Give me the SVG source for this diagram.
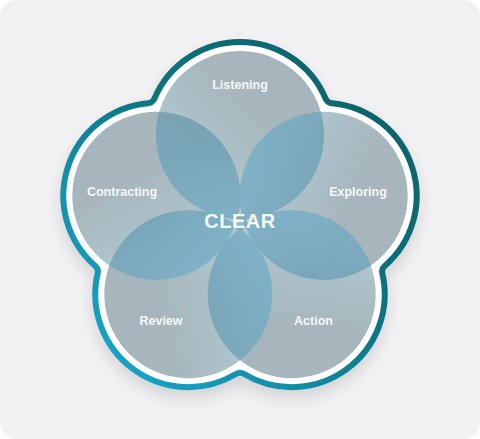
<svg xmlns="http://www.w3.org/2000/svg" width="480" height="439" viewBox="0 0 480 439">
  <defs>
    <linearGradient id="ring" x1="1" y1="0" x2="0" y2="1">
      <stop offset="0" stop-color="#0a5c60"/>
      <stop offset="0.45" stop-color="#0f7480"/>
      <stop offset="1" stop-color="#16afd8"/>
    </linearGradient>
    <linearGradient id="cg" x1="0.9" y1="0.1" x2="0.1" y2="0.9">
      <stop offset="0" stop-color="#5e7a85" stop-opacity="0.55"/>
      <stop offset="0.35" stop-color="#5e7a85" stop-opacity="0.55"/>
      <stop offset="1" stop-color="#78a8bc" stop-opacity="0.55"/>
    </linearGradient>
    <clipPath id="cL"><circle cx="240" cy="135" r="84"/></clipPath>
    <clipPath id="cE"><circle cx="323.69" cy="195.81" r="84"/></clipPath>
    <clipPath id="cA"><circle cx="291.73" cy="294.19" r="84"/></clipPath>
    <clipPath id="cR"><circle cx="188.27" cy="294.19" r="84"/></clipPath>
    <filter id="sh" x="-20%" y="-20%" width="140%" height="150%">
      <feDropShadow dx="0" dy="8" stdDeviation="8" flood-color="#000" flood-opacity="0.13"/>
    </filter>
    <style>
      .lbl { font-family: "Liberation Sans", Arial, sans-serif; font-weight: bold; font-size: 12.5px; fill: #ffffff; fill-opacity: 0.92; text-anchor: middle; }
      .ttl { font-family: "Liberation Sans", Arial, sans-serif; font-weight: bold; font-size: 20px; letter-spacing: 0.5px; fill: #ffffff; fill-opacity: 0.95; text-anchor: middle; }
      .pet { fill: url(#cg); }
      .lens { fill: #68b4d6; fill-opacity: 0.35; }
    </style>
  </defs>
  <rect x="0" y="0" width="480" height="439" fill="#ffffff"/>
  <rect x="0" y="0" width="480" height="439" rx="16" fill="#f2f2f5"/>
  <g id="frame">
    <path filter="url(#sh)" fill="#ffffff" stroke="url(#ring)" stroke-width="6"
      d="M154.30,98.88 A93,93 0 0 1 325.70,98.88 A7,7 0 0 0 331.56,103.14 A93,93 0 0 1 384.52,266.15 A7,7 0 0 0 382.28,273.03 A93,93 0 0 1 243.62,373.78 A7,7 0 0 0 236.38,373.78 A93,93 0 0 1 97.72,273.03 A7,7 0 0 0 95.48,266.15 A93,93 0 0 1 148.44,103.14 A7,7 0 0 0 154.30,98.88 Z"/>
    <circle cx="240" cy="223" r="7" fill="#8fbfd3"/>
  </g>
  <g id="connectors"/>
  <g id="listening">
    <circle class="pet" r="84" transform="translate(240,135) rotate(0)"/>
  </g>
  <g id="exploring">
    <circle class="pet" r="84" transform="translate(323.69,195.81) rotate(72)"/>
  </g>
  <g id="action">
    <circle class="pet" r="84" transform="translate(291.73,294.19) rotate(144)"/>
  </g>
  <g id="review">
    <circle class="pet" r="84" transform="translate(188.27,294.19) rotate(216)"/>
  </g>
  <g id="contracting">
    <circle class="pet" r="84" transform="translate(156.31,195.81) rotate(288)"/>
  </g>
  <g id="overlaps">
    <circle class="lens" cx="323.69" cy="195.81" r="84" clip-path="url(#cL)"/>
    <circle class="lens" cx="291.73" cy="294.19" r="84" clip-path="url(#cE)"/>
    <circle class="lens" cx="188.27" cy="294.19" r="84" clip-path="url(#cA)"/>
    <circle class="lens" cx="156.31" cy="195.81" r="84" clip-path="url(#cR)"/>
    <circle class="lens" cx="156.31" cy="195.81" r="84" clip-path="url(#cL)"/>
  </g>
  <g id="labels">
    <text class="lbl" x="240" y="88.5">Listening</text>
    <text class="lbl" x="358" y="195.5">Exploring</text>
    <text class="lbl" x="313.5" y="324.5">Action</text>
    <text class="lbl" x="161" y="324.5">Review</text>
    <text class="lbl" x="122" y="195.5">Contracting</text>
    <text class="ttl" x="240" y="228">CLEAR</text>
  </g>
</svg>
